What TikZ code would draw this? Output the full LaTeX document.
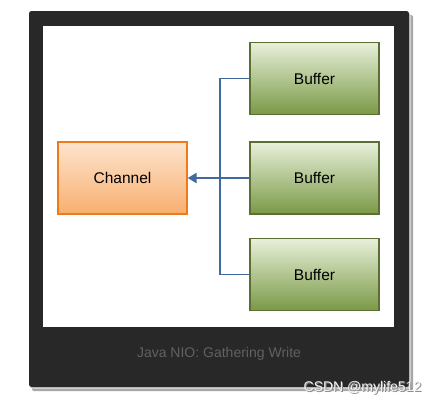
\documentclass[tikz,border=0pt]{standalone}
\usepackage{fontspec}
\setmainfont{Liberation Sans}
\usetikzlibrary{arrows.meta,shadows}
\definecolor{frame}{HTML}{282828}
\definecolor{orgtop}{HTML}{FDE4CF}
\definecolor{orgbot}{HTML}{F8AF6E}
\definecolor{orgline}{HTML}{EE7A1C}
\definecolor{grntop}{HTML}{E8F0DA}
\definecolor{grnbot}{HTML}{7A9946}
\definecolor{grnline}{HTML}{5B6E33}
\definecolor{wire}{HTML}{41699E}
\tikzset{
  boxbase/.style={draw, line width=1.3pt, minimum width=129pt, minimum height=72pt, inner sep=0pt, font=\fontsize{15.5}{18}\selectfont},
  chanbox/.style={boxbase, draw=orgline, top color=orgtop, bottom color=orgbot},
  bufbox/.style={boxbase, draw=grnline, top color=grntop, bottom color=grnbot},
  wireline/.style={draw=wire, line width=1.2pt},
}
\begin{document}
\begin{tikzpicture}[x=1pt,y=-1pt]
\useasboundingbox (0,0) rectangle (439,405);
% shadow
\fill[black!35, rounded corners=2pt] (32,15) rectangle (413,391);
\fill[black!20, rounded corners=2pt] (31,14) rectangle (411,389);
% frame
\fill[frame, rounded corners=2.5pt] (29,11) rectangle (409,387);
\fill[white] (43,26) rectangle (394,327);
% nodes
\node[chanbox] (ch) at (122.5,178) {Channel};
\node[bufbox] (b1) at (314.5,78.5) {Buffer};
\node[bufbox] (b2) at (314.5,178) {Buffer};
\node[bufbox] (b3) at (314.5,274.5) {Buffer};
\coordinate (j1) at (220,78.5);
\coordinate (j2) at (220,178);
\coordinate (j3) at (220,274.5);
\draw[wireline] (b1.west) -- (j1) -- (j3) -- (b3.west);
\draw[wireline] (b2.west) -- (j2);
\draw[wireline, line width=2.6pt, -{Triangle[width=10pt,length=9pt]}] (j2) -- (ch.east);
% caption
\node[text=black!62, font=\fontsize{14}{16}\selectfont] (cap) at (219,354) {Java NIO: Gathering Write};
\node[text=black!45, font=\fontsize{14}{16}\selectfont] (wm2) at (363.5,388.5) {CSDN @mylife512};
\node[text=white!95!black, font=\fontsize{14}{16}\selectfont] (wm) at (362.5,387.5) {CSDN @mylife512};
\end{tikzpicture}
\end{document}
